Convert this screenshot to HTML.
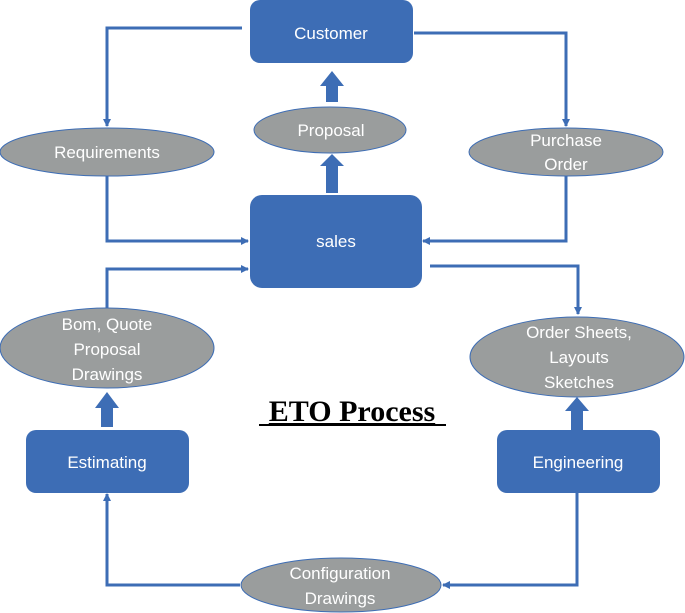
<!DOCTYPE html>
<html><head><style>body{margin:0;background:#fff}svg{display:block}</style></head><body>
<svg width="685" height="613" viewBox="0 0 685 613" xmlns="http://www.w3.org/2000/svg" font-family="Liberation Sans, sans-serif">
<defs><marker id="a" markerWidth="8" markerHeight="8" refX="7" refY="4" orient="auto" markerUnits="userSpaceOnUse"><path d="M0,0 L8,4 L0,8 Z" fill="#3D6DB5"/></marker></defs>
<g fill="none" stroke="#3D6DB5" stroke-width="3">
<path d="M242,28 H107 V126" marker-end="url(#a)"/>
<path d="M414,33 H566 V126" marker-end="url(#a)"/>
<path d="M107,176 V241 H248" marker-end="url(#a)"/>
<path d="M566,176 V241 H423" marker-end="url(#a)"/>
<path d="M107,312 V269 H248" marker-end="url(#a)"/>
<path d="M430,266 H578 V314" marker-end="url(#a)"/>
<path d="M577,493 V585 H443" marker-end="url(#a)"/>
<path d="M240,585 H107 V494" marker-end="url(#a)"/>
</g>
<g fill="#3D6DB5">
<rect x="250" y="0" width="163" height="63" rx="10"/>
<rect x="250" y="195" width="172" height="93" rx="12"/>
<rect x="26" y="430" width="163" height="63" rx="10"/>
<rect x="497" y="430" width="163" height="63" rx="10"/>
<path d="M326,193 V166 H320 L332,154 L344,166 H338 V193 Z"/>
<path d="M326,102 V86 H320 L332,71 L344,86 H338 V102 Z"/>
<path d="M101,427 V408 H95 L107,392 L119,408 H113 V427 Z"/>
<path d="M571,430 V411 H565 L577,397 L589,411 H583 V430 Z"/>
</g>
<g fill="#9A9D9D" stroke="#3D6DB5" stroke-width="1">
<ellipse cx="330" cy="130" rx="76" ry="23"/>
<ellipse cx="107" cy="152" rx="107" ry="24"/>
<ellipse cx="566" cy="152" rx="97" ry="24"/>
<ellipse cx="107" cy="348" rx="107" ry="40"/>
<ellipse cx="577" cy="357" rx="107" ry="40"/>
<ellipse cx="341" cy="585" rx="100" ry="27"/>
</g>
<g fill="#fff" font-size="17" text-anchor="middle">
<text x="331" y="39">Customer</text>
<text x="336" y="247">sales</text>
<text x="107" y="468">Estimating</text>
<text x="578" y="468">Engineering</text>
<text x="331" y="136">Proposal</text>
<text x="107" y="158">Requirements</text>
<text x="566" y="146">Purchase</text><text x="566" y="170">Order</text>
<text x="107" y="330">Bom, Quote</text><text x="107" y="355">Proposal</text><text x="107" y="380">Drawings</text>
<text x="579" y="338">Order Sheets,</text><text x="579" y="363">Layouts</text><text x="579" y="388">Sketches</text>
<text x="340" y="579">Configuration</text><text x="340" y="604">Drawings</text>
</g>
<text x="352" y="421" text-anchor="middle" font-family="Liberation Serif, serif" font-weight="bold" font-size="30" fill="#000" text-decoration="underline">ETO Process</text>
<line x1="259" y1="425" x2="446" y2="425" stroke="#000" stroke-width="2"/>
</svg>
</body></html>
